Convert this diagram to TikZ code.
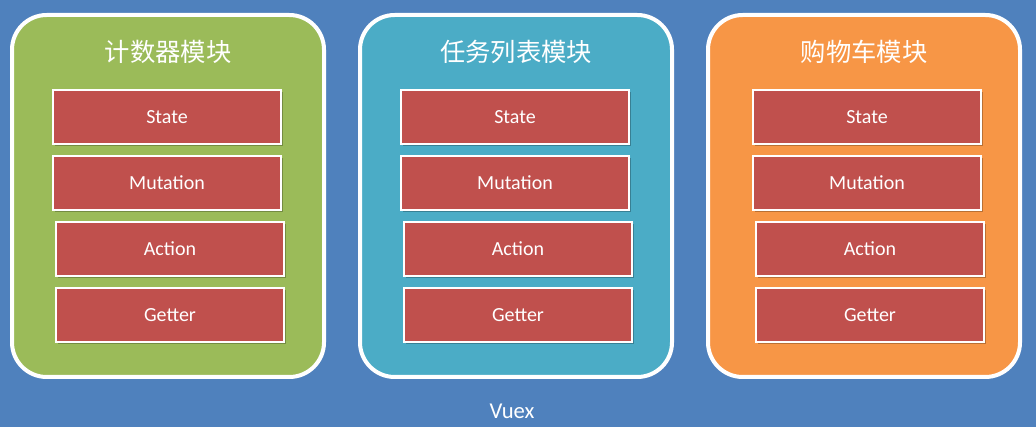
\documentclass[tikz,border=0pt]{standalone}
\usepackage{fontspec}
\setmainfont{Carlito}
\newfontfamily\cjk{Noto Sans CJK SC}
\begin{document}
\begin{tikzpicture}[x=0.75pt,y=-0.75pt,
  module/.style={draw=white,line width=3pt,rounded corners=26pt},
  item/.style={draw=white,line width=1.5pt,fill=itemred,text=white,font=\fontsize{15}{17}\selectfont,inner sep=0pt},
  title/.style={text=white,font=\cjk\fontsize{19}{21}\selectfont}]
\definecolor{bgblue}{HTML}{4F81BD}
\definecolor{mgreen}{HTML}{9BBB59}
\definecolor{mteal}{HTML}{4BACC6}
\definecolor{morange}{HTML}{F79646}
\definecolor{itemred}{HTML}{C0504D}
\fill[bgblue] (0,0) rectangle (1036,427);
\useasboundingbox (0,0) rectangle (1036,427);
\foreach \n/\x/\o/\c/\t in {a/12/0/mgreen/计数器模块,b/360/0/mteal/任务列表模块,c/708/4/morange/购物车模块}{
  \draw[module,fill=\c] (\x,15) rectangle ++(312,362);
  \node[title] (\n t) at (\x+156,52) {\t};
  \foreach \k/\dx/\y/\l in {1/40/89/State,2/40/155/Mutation,3/43/221/Action,4/43/287/Getter}{
    \fill[black,opacity=0.25] (\x+\dx+\o+3,\y+3) rectangle ++(228,54);
    \node[item,minimum width=228*0.75pt,minimum height=54*0.75pt,anchor=north west] (\n\k) at (\x+\dx+\o,\y) {\l};
  }
}
\node[text=white,font=\fontsize{17}{19}\selectfont] (vuex) at (512,411) {Vuex};
\end{tikzpicture}
\end{document}
